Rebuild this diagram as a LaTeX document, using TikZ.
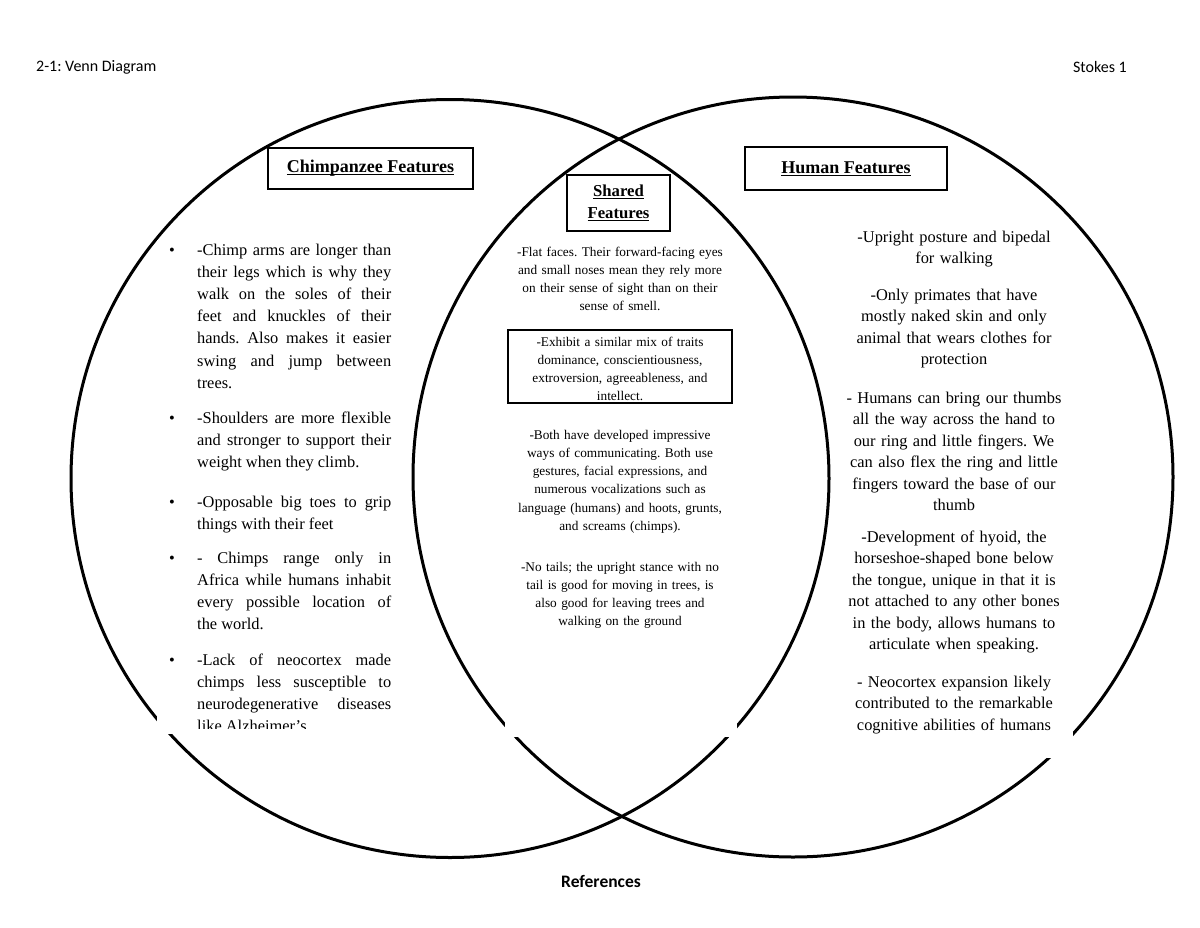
\documentclass[tikz,border=0pt]{standalone}
\usepackage{fontspec}
\setmainfont{Liberation Serif}
\newfontfamily\calfont{Carlito}
\hyphenpenalty=10000
\exhyphenpenalty=10000
\frenchspacing
\newcommand\hdul[1]{\underline{\smash{#1}}\vphantom{#1}}
\begin{document}
\begin{tikzpicture}[x=1pt,y=-1pt,
  circ/.style={line width=3pt, draw=black},
  occl/.style={fill=white, draw=none},
  headbox/.style={draw, line width=1.3pt, inner sep=0pt, font=\bfseries\fontsize{18}{22}\selectfont},
  ltext/.style={anchor=base west, text width=194pt, align=justify, inner sep=0pt, font=\fontsize{16.4}{22.2}\selectfont},
  rtext/.style={anchor=base, text width=250pt, align=center, inner sep=0pt, font=\fontsize{16.4}{21.5}\selectfont},
  stext/.style={anchor=base, text width=240pt, align=center, inner sep=0pt, font=\fontsize{13.3}{18.3}\selectfont},
  bul/.style={anchor=base, inner sep=0pt, font=\fontsize{16.4}{22}\selectfont},
  pagetext/.style={inner sep=0pt, font=\calfont\fontsize{16}{19}\selectfont}
]
\useasboundingbox (0,0) rectangle (1200,927);
\fill[white] (0,0) rectangle (1200,927);

% page header / footer
\node[pagetext, anchor=west] (title) at (36,67) {2-1: Venn Diagram};
\node[pagetext, anchor=east] (page) at (1127,67) {Stokes 1};
\node[pagetext, font=\calfont\bfseries\fontsize{17.5}{20}\selectfont] (refs) at (601,881) {References};

% the two circles
\draw[circ] (450,478.5) circle [radius=379pt];
\draw[circ] (793,477) circle [radius=380pt];

% white text areas covering parts of the circles
\fill[occl] (157,240) rectangle (400,734);
\fill[occl] (505,245) rectangle (737,737);
\fill[occl] (840,225) rectangle (1073,758);

% title boxes
\node[headbox, minimum width=205pt, minimum height=41pt] (chimp) at (370.5,168.5) {\hdul{Chimpanzee Features}};
\node[headbox, minimum width=202pt, minimum height=43pt] (human) at (846,168.5) {\hdul{Human Features}};
\node[headbox, minimum width=103pt, minimum height=56pt, align=center, font=\bfseries\fontsize{16.7}{22}\selectfont] (shared) at (618.5,203) {\hdul{Shared}\\\hdul{Features}};

% chimpanzee features
\node[bul] (b1) at (172,255) {•};
\node[ltext] (c1) at (197,255) {-Chimp arms are longer than\linebreak their legs which is why they\linebreak walk on the soles of their\linebreak feet and knuckles of their\linebreak hands. Also makes it easier\linebreak swing and jump between\linebreak trees.};
\node[bul] (b2) at (172,423) {•};
\node[ltext] (c2) at (197,423) {-Shoulders are more flexible\linebreak and stronger to support their\linebreak weight when they climb.};
\node[bul] (b3) at (172,507) {•};
\node[ltext] (c3) at (197,507) {-Opposable big toes to grip\linebreak things with their feet};
\node[bul] (b4) at (172,563) {•};
\node[ltext] (c4) at (197,563) {- Chimps range only in\linebreak Africa while humans inhabit\linebreak every possible location of\linebreak the world.};
\node[bul] (b5) at (172,665) {•};
\begin{scope}
\clip (150,640) rectangle (400,728);
\node[ltext] (c5) at (197,665) {-Lack of neocortex made\linebreak chimps less susceptible to\linebreak neurodegenerative diseases\linebreak like Alzheimer’s};
\end{scope}

% shared features
\node[stext] (s1) at (620,256) {-Flat faces. Their forward-facing eyes\\and small noses mean they rely more\\on their sense of sight than on their\\sense of smell.};
\node[draw, line width=1.3pt, minimum width=224pt, minimum height=73pt, inner sep=0pt] (traitbox) at (620,366.5) {};
\node[stext] (s2) at (620,346) {-Exhibit a similar mix of traits\\dominance, conscientiousness,\\extroversion, agreeableness, and\\intellect.};
\node[stext] (s3) at (620,439) {-Both have developed impressive\\ways of communicating. Both use\\gestures, facial expressions, and\\numerous vocalizations such as\\language (humans) and hoots, grunts,\\and screams (chimps).};
\node[stext] (s4) at (620,571) {-No tails; the upright stance with no\\tail is good for moving in trees, is\\also good for leaving trees and\\walking on the ground};

% human features
\node[rtext] (h1) at (954,242) {-Upright posture and bipedal\\for walking};
\node[rtext] (h2) at (954,300) {-Only primates that have\\mostly naked skin and only\\animal that wears clothes for\\protection};
\node[rtext] (h3) at (954,403) {- Humans can bring our thumbs\\all the way across the hand to\\our ring and little fingers. We\\can also flex the ring and little\\fingers toward the base of our\\thumb};
\node[rtext] (h4) at (954,542) {-Development of hyoid, the\\horseshoe-shaped bone below\\the tongue, unique in that it is\\not attached to any other bones\\in the body, allows humans to\\articulate when speaking.};
\node[rtext] (h5) at (954,687) {- Neocortex expansion likely\\contributed to the remarkable\\cognitive abilities of humans};
\end{tikzpicture}
\end{document}
